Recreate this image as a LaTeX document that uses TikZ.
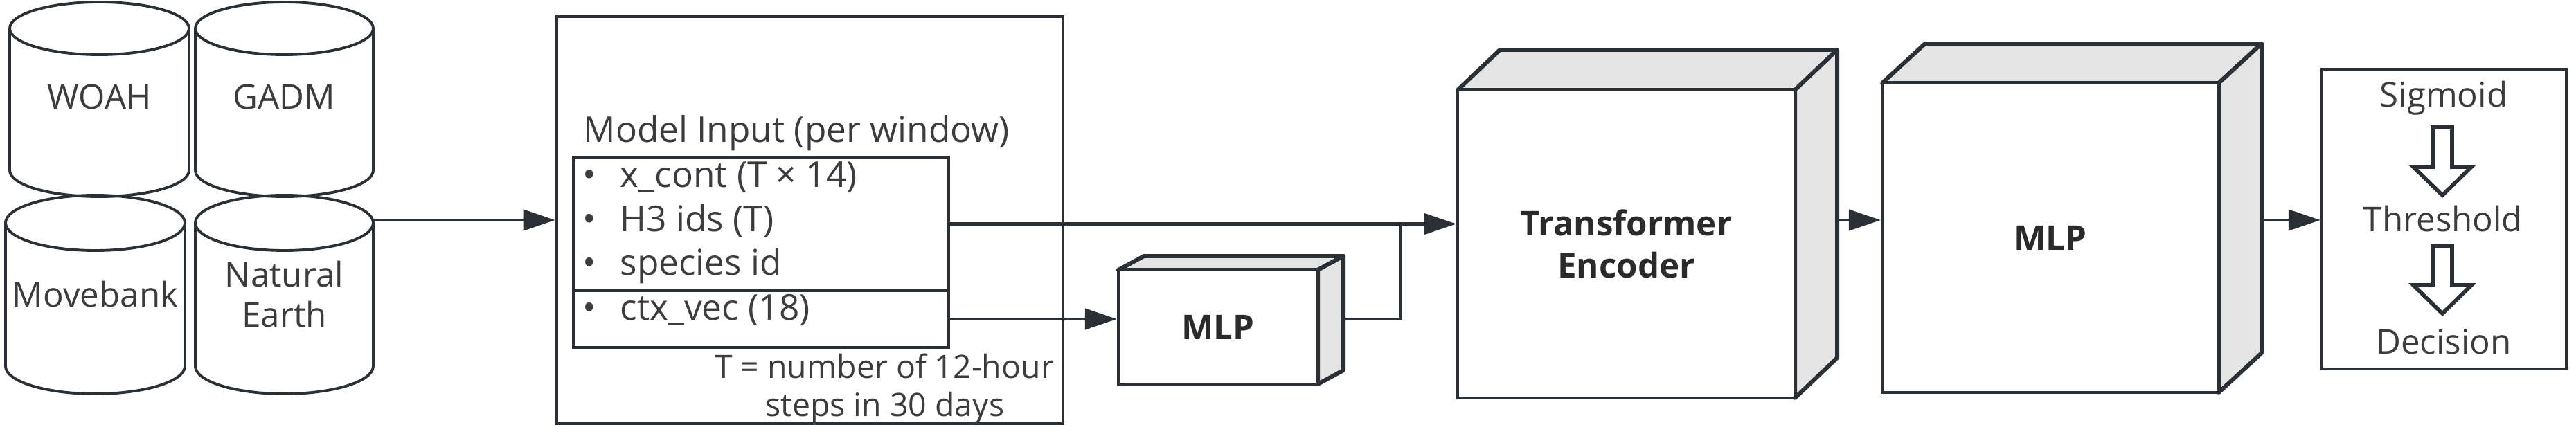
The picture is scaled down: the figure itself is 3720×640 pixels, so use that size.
\documentclass[tikz,border=0pt]{standalone}
\usepackage{fontspec}
\setmainfont{Open Sans}
\usetikzlibrary{arrows.meta}
\definecolor{ln}{HTML}{2B3036}
\definecolor{tx}{HTML}{3C3C3C}
\definecolor{face}{HTML}{E4E4E4}
\tikzset{
  txt/.style={inner sep=0pt, text=tx, font=\fontsize{14}{17}\selectfont},
  ltxt/.style={txt, font=\fontsize{14.6}{17}\selectfont},
  stxt/.style={txt, font=\fontsize{13.2}{16}\selectfont},
  btxt/.style={inner sep=0pt, text=tx!70!black, font=\fontsize{14}{17.4}\selectfont\bfseries, align=center},
  arr/.style={line width=1.2pt, draw=ln, -{Triangle[length=4.6mm,width=3mm]}},
  conn/.style={line width=1.2pt, draw=ln},
  box/.style={draw=ln, line width=1.2pt, fill=white, inner sep=0pt},
  facestyle/.style={draw=ln, line width=1.7pt, fill=face, line join=round},
  cylst/.style={draw=ln, line width=1.1pt},
  hollow/.style={draw=ln, line width=1.6pt, fill=white, line join=miter},
}
\newcommand\cubebox[8]{%
  \draw[facestyle] (#2,#3) -- (#2+#6,#3-#7) -- (#4+#6,#3-#7) -- (#4,#3) -- cycle;
  \draw[facestyle] (#4,#3) -- (#4+#6,#3-#7) -- (#4+#6,#5-#7) -- (#4,#5) -- cycle;
  \node[box, minimum width={(#4-#2)*0.01cm}, minimum height={(#5-#3)*0.01cm}] (#1) at ({(#2+#4)/2},{(#3+#5)/2}) {};
  \node[btxt] (#1-t) at (#1.center) {#8};
}
\newcommand\cyl[8]{%
  \draw[cylst] (#2,#4+#6) -- (#2,#5-#6) arc[start angle=180,end angle=360,x radius={(#3-#2)/2*0.01cm},y radius={#6*0.01cm}] -- (#3,#4+#6);
  \draw[cylst] ({(#2+#3)/2},#4+#6) ellipse[x radius={(#3-#2)/2*0.01cm},y radius={#6*0.01cm}];
  \node[txt, align=center] (#1) at ({(#2+#3)/2},#7) {#8};
}
\newcommand\hollowdown[4]{%
  \draw[hollow] (#1-14,#2) -- (#1+14,#2) -- (#1+14,#3) -- (#1+42,#3) -- (#1,#4) -- (#1-42,#3) -- (#1-14,#3) -- cycle;
}
\begin{document}
\begin{tikzpicture}[x=0.01cm,y=-0.01cm]
\useasboundingbox[fill=white] (0,0) rectangle (3720,640);
% data sources
\cyl{woah}{14}{273}{3}{284}{38}{140}{WOAH}
\cyl{gadm}{282}{539}{3}{284}{38}{140}{GADM}
\cyl{move}{8}{267}{282}{569}{40}{425}{Movebank}
\cyl{ne}{282}{539}{282}{569}{40}{425}{Natural\\[-0.6pt]Earth}
% model input
\node[box, minimum width=7.31cm, minimum height=5.88cm] (mi) at (1169.5,318) {};
\coordinate (srcout) at (539,318);
\draw[arr] (srcout) -- (mi.west);
\node[ltxt, anchor=base west] (mititle) at (842,206) {Model Input (per window)};
\node[box, minimum width=5.42cm, minimum height=1.93cm] (seq) at (1099,323.5) {};
\node[box, minimum width=5.42cm, minimum height=0.82cm] (ctx) at (1099,461) {};
\node[ltxt, anchor=base west] (b1) at (841,271) {\makebox[0.54cm][l]{•}x\_cont (T × 14)};
\node[ltxt, anchor=base west] (b2) at (841,335) {\makebox[0.54cm][l]{•}H3 ids (T)};
\node[ltxt, anchor=base west] (b3) at (841,398) {\makebox[0.54cm][l]{•}species id};
\node[ltxt, anchor=base west] (b4) at (841,463) {\makebox[0.54cm][l]{•}ctx\_vec (18)};
\node[stxt, anchor=base] (n1) at (1277,547) {T = number of 12-hour};
\node[stxt, anchor=base] (n2) at (1278,602) {steps in 30 days};
% blocks
\cubebox{mlpa}{1615}{390}{1903}{555}{37}{20}{MLP}
\cubebox{enc}{2105}{130}{2592}{575}{61}{58}{Transformer\\Encoder}
\cubebox{mlpb}{2718}{120}{3204}{567}{62}{57}{MLP}
% decision box
\node[box, minimum width=3.53cm, minimum height=4.33cm] (dec) at (3529.5,316.5) {};
\node[txt, anchor=base] (sig) at (3529,155) {Sigmoid};
\node[txt, anchor=base] (thr) at (3528,335) {Threshold};
\node[txt, anchor=base] (dcs) at (3529,512) {Decision};
\hollowdown{3527}{184}{241}{282}
\hollowdown{3527}{355}{412}{453}
% connectors
\draw[arr] (ctx.east) -- (ctx.east -| mlpa.west);
\coordinate (mlpaout) at (1940,461);
\coordinate (jn) at (2023,323.5);
\draw[conn] (mlpaout) -- (jn |- mlpaout) -- (jn);
\draw[arr] (seq.east) -- (seq.east -| enc.west);
\coordinate (encout) at (2654,318);
\draw[arr] (encout) -- (encout -| mlpb.west);
\coordinate (mlpbout) at (3266,318);
\draw[arr] (mlpbout) -- (mlpbout -| dec.west);
\end{tikzpicture}
\end{document}
